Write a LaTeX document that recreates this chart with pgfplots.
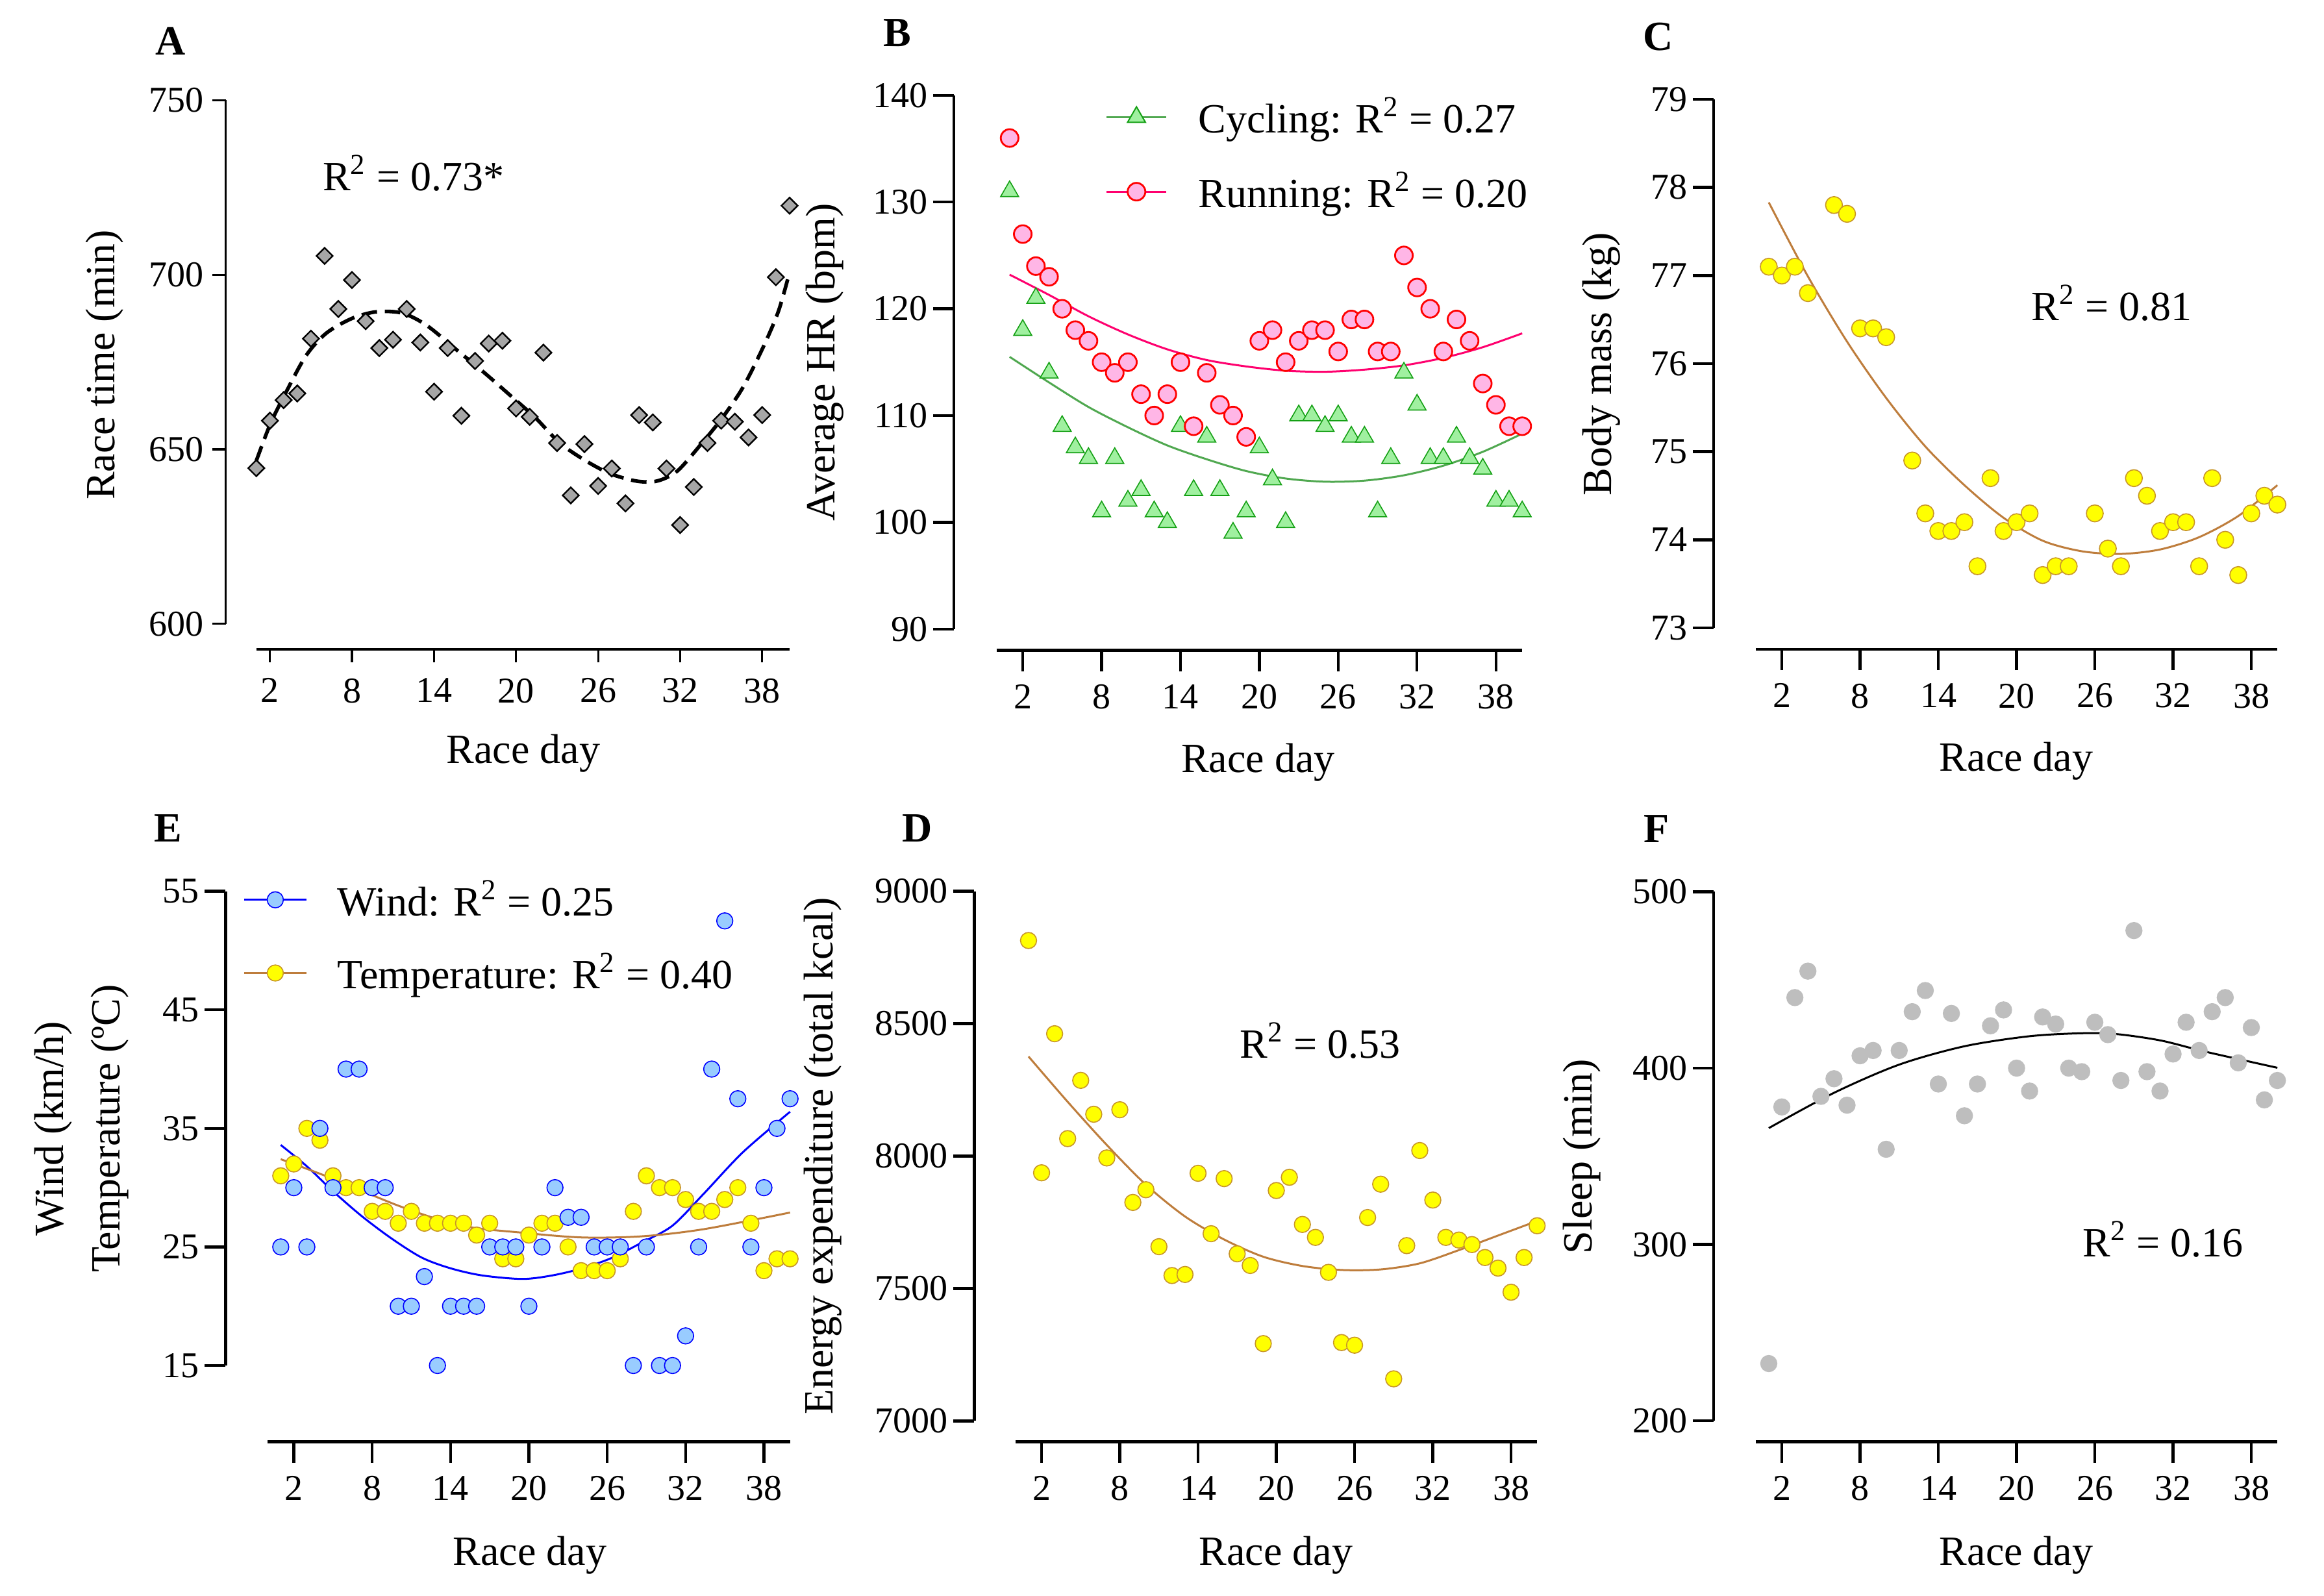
\documentclass[border=0pt]{standalone}
\usepackage{fontspec}
\setmainfont{Liberation Serif}
\usepackage{pgfplots}
\pgfplotsset{compat=1.18}

\definecolor{diamondgray}{RGB}{166,166,166}
\definecolor{runfill}{RGB}{255,182,230}
\definecolor{runedge}{RGB}{255,0,0}
\definecolor{runline}{RGB}{255,0,110}
\definecolor{cycfill}{RGB}{160,240,160}
\definecolor{cycedge}{RGB}{20,160,20}
\definecolor{cycline}{RGB}{80,168,80}
\definecolor{yelfill}{RGB}{255,255,0}
\definecolor{yeledge}{RGB}{200,150,40}
\definecolor{fitbrown}{RGB}{190,125,60}
\definecolor{windfill}{RGB}{153,204,255}
\definecolor{windedge}{RGB}{0,0,255}
\definecolor{sleepgray}{RGB}{190,190,190}

\pgfplotsset{
  prism/.style={
    scale only axis, clip=false, anchor=south west,
    axis x line*=bottom, axis y line*=left,
    axis line style={draw=none},
    tick align=outside, major tick length=8pt,
    tick style={draw=black, line width=1.1pt},
    xtick={2,8,...,38}, xmax=40,
    /pgf/number format/assume math mode=true,
    /pgf/number format/1000 sep={},
    xticklabel={\pgfmathprintnumber{\tick}},
    yticklabel={\pgfmathprintnumber{\tick}},
    tick label style={font=\fontsize{14}{16}\selectfont, inner sep=0pt},
    label style={font=\fontsize{16}{19}\selectfont},
    xticklabel shift=5pt, yticklabel shift=2pt,
    xlabel={Race day},
  },
  pts/.style={only marks, mark=*, mark options={solid, line width=0.5pt}},
  fit/.style={no markers, smooth, line width=0.75pt},
}
\tikzset{
  letter/.style={font=\bfseries\fontsize{16}{19}\selectfont},
  rlab/.style={font=\fontsize{16}{19}\selectfont},
}

\begin{document}
\begin{tikzpicture}
\path (0,0) rectangle (894.75pt,614.25pt);

% ---------- A ----------
\begin{axis}[prism, at={(86.875pt,364.25pt)}, width=217.1pt, height=211.4pt,
  xmin=-1.24, ymin=592.7, ymax=750, ytick={600,650,700,750},
  major tick length=5pt, tick style={draw=black, line width=0.8pt},
  xticklabel shift=6pt, yticklabel shift=3.4pt,
  ylabel={Race time (min)},
  xlabel style={at={(axis description cs:0.528,-0.19)}, anchor=center},
  ylabel style={at={(axis description cs:-0.2147,0.518)}, anchor=center}]
\draw[line width=0.8pt] (axis cs:-1.24,600) -- (axis cs:-1.24,750);
\draw[line width=0.8pt] (axis cs:1,592.7) -- (axis cs:40,592.7);
\addplot[only marks, mark=square*, mark size=2.2pt,
  mark options={rotate=45, fill=diamondgray, draw=black, line width=0.6pt}]
  coordinates {(1,644.6)(2,658.2)(3,664.1)(4,666)(5,681.7)(6,705.4)(7,690.2)(8,698.5)
  (9,686.7)(10,679)(11,681.4)(12,690.2)(13,680.6)(14,666.5)(15,679)(16,659.6)(17,675.3)
  (18,680.3)(19,681.1)(20,661.7)(21,659.3)(22,677.7)(23,651.8)(24,636.8)(25,651.5)
  (26,639.5)(27,644.5)(28,634.5)(29,659.8)(30,657.7)(31,644.5)(32,628.3)(33,639.2)
  (34,651.8)(35,658.2)(36,657.9)(37,653.4)(38,659.8)(39,699.3)(40,719.8)};
\addplot[no markers, smooth, black, line width=1.4pt, dash pattern=on 6pt off 3pt]
  coordinates {(1,646.7)(2,657)(3,665)(4.6,676.6)(6.1,683.2)(8,687.5)(9.8,689.4)
  (11.7,689)(13.5,685.4)(15.8,678)(17.6,672.2)(19.5,665.7)(21.4,659.1)(23.2,651.8)
  (25.1,646.7)(26.9,643)(28.8,640.9)(30.3,640.9)(31.8,643.8)(33.6,651.8)(35.1,659.1)
  (36.6,667.8)(38.1,679.5)(39.2,689.7)(40,700.7)};
\node[letter] at (axis description cs:-0.0973,1.108) {A};
\node[rlab] at (axis description cs:0.333,0.867) {R\textsuperscript{2} = 0.73*};
\end{axis}

% ---------- B ----------
\begin{axis}[prism, at={(367.25pt,363.85pt)}, width=218.8pt, height=213.7pt,
  xmin=-3.24, ymin=88, ymax=140, ytick={90,100,...,140},
  ylabel={Average HR (bpm)},
  xlabel style={at={(axis description cs:0.535,-0.2017)}, anchor=center},
  ylabel style={at={(axis description cs:-0.2267,0.519)}, anchor=center},
  legend style={at={(axis description cs:0.266,0.8935)}, anchor=west, draw=none,
    fill=none, inner sep=0pt, row sep=9.5pt, column sep=10pt,
    font=\fontsize{16}{19}\selectfont},
  legend cell align=left,
  legend image code/.code={\draw[mark repeat=2,mark phase=2,#1]
    plot coordinates {(0pt,0pt) (11.5pt,0pt) (23pt,0pt)};}]
\addlegendimage{cycline, line width=0.8pt, mark=triangle*,
  mark options={fill=cycfill, draw=cycedge, mark size=4pt, line width=0.5pt}}
\addlegendentry{Cycling: R\textsuperscript{2} = 0.27}
\addlegendimage{runline, line width=0.8pt, mark=*,
  mark options={fill=runfill, draw=runedge, mark size=3.4pt, line width=0.7pt}}
\addlegendentry{Running: R\textsuperscript{2} = 0.20}
\draw[line width=1.1pt] (axis cs:-3.24,90) -- (axis cs:-3.24,140);
\draw[line width=1.1pt] (axis cs:0,88) -- (axis cs:40,88);
\addplot[pts, forget plot, mark=triangle*, mark size=4pt,
  mark options={fill=cycfill, draw=cycedge}]
  coordinates {(1,131)(2,118)(3,121)(4,114)(5,109)(6,107)(7,106)(8,101)(9,106)(10,102)
  (11,103)(12,101)(13,100)(14,109)(15,103)(16,108)(17,103)(18,99)(19,101)(20,107)
  (21,104)(22,100)(23,110)(24,110)(25,109)(26,110)(27,108)(28,108)(29,101)(30,106)
  (31,114)(32,111)(33,106)(34,106)(35,108)(36,106)(37,105)(38,102)(39,102)(40,101)};
\addplot[pts, forget plot, mark size=3.4pt,
  mark options={fill=runfill, draw=runedge, line width=0.7pt}]
  coordinates {(1,136)(2,127)(3,124)(4,123)(5,120)(6,118)(7,117)(8,115)(9,114)(10,115)
  (11,112)(12,110)(13,112)(14,115)(15,109)(16,114)(17,111)(18,110)(19,108)(20,117)
  (21,118)(22,115)(23,117)(24,118)(25,118)(26,116)(27,119)(28,119)(29,116)(30,116)
  (31,125)(32,122)(33,120)(34,116)(35,119)(36,117)(37,113)(38,111)(39,109)(40,109)};
\addplot[fit, forget plot, cycline]
  coordinates {(1,115.5)(4,113.1)(7,110.8)(10,108.9)(13,107.2)(16,105.9)(19,104.8)
  (22,104.1)(25,103.8)(28,103.9)(31,104.4)(34,105.3)(37,106.6)(40,108.3)};
\addplot[fit, forget plot, runline]
  coordinates {(1,123.2)(4,121.3)(7,119.3)(10,117.6)(13,116.2)(16,115.2)(19,114.6)
  (22,114.2)(25,114.1)(28,114.3)(31,114.7)(34,115.4)(37,116.4)(40,117.7)};
\node[letter] at (axis description cs:-0.0994,1.112) {B};
\end{axis}

% ---------- C ----------
\begin{axis}[prism, at={(659.7pt,364.25pt)}, width=217.1pt, height=211.75pt,
  xmin=-3.24, ymin=72.757, ymax=79, ytick={73,74,...,79},
  ylabel={Body mass (kg)},
  xlabel style={at={(axis description cs:0.537,-0.203)}, anchor=center},
  ylabel style={at={(axis description cs:-0.199,0.519)}, anchor=center}]
\draw[line width=1.1pt] (axis cs:-3.24,73) -- (axis cs:-3.24,79);
\draw[line width=1.1pt] (axis cs:0,72.757) -- (axis cs:40,72.757);
\addplot[pts, mark size=3.25pt, mark options={fill=yelfill, draw=yeledge}]
  coordinates {(1,77.1)(2,77.0)(3,77.1)(4,76.8)(6,77.8)(7,77.7)(8,76.4)(9,76.4)(10,76.3)
  (12,74.9)(13,74.3)(14,74.1)(15,74.1)(16,74.2)(17,73.7)(18,74.7)(19,74.1)(20,74.2)
  (21,74.3)(22,73.6)(23,73.7)(24,73.7)(26,74.3)(27,73.9)(28,73.7)(29,74.7)(30,74.5)
  (31,74.1)(32,74.2)(33,74.2)(34,73.7)(35,74.7)(36,74.0)(37,73.6)(38,74.3)(39,74.5)
  (40,74.4)};
\addplot[fit, fitbrown]
  coordinates {(1,77.83)(4,76.99)(7,76.25)(10,75.61)(13,75.06)(16,74.62)(19,74.25)
  (22,73.99)(25,73.87)(28,73.84)(31,73.89)(34,74.03)(37,74.27)(40,74.62)};
\node[letter] at (axis description cs:-0.0977,1.114) {C};
\node[rlab] at (axis description cs:0.706,0.630) {R\textsuperscript{2} = 0.81};
\end{axis}

% ---------- E ----------
\begin{axis}[prism, at={(86.875pt,59.1pt)}, width=217.3pt, height=212pt,
  xmin=-3.22, ymin=8.56, ymax=55, ytick={15,25,35,45,55},
  ylabel={Wind (km/h)\\Temperature (ºC)},
  xlabel style={at={(axis description cs:0.539,-0.2057)}, anchor=center},
  ylabel style={at={(axis description cs:-0.2554,0.569)}, anchor=center,
    align=center, font=\fontsize{16}{21.75}\selectfont},
  legend style={at={(axis description cs:0.030,0.918)}, anchor=west, draw=none,
    fill=none, inner sep=0pt, row sep=9pt, column sep=9.5pt,
    font=\fontsize{16}{19}\selectfont},
  legend cell align=left,
  legend image code/.code={\draw[mark repeat=2,mark phase=2,#1]
    plot coordinates {(0pt,0pt) (12pt,0pt) (24pt,0pt)};}]
\addlegendimage{windedge, line width=0.8pt, mark=*,
  mark options={fill=windfill, draw=windedge, mark size=3.1pt, line width=0.4pt}}
\addlegendentry{Wind: R\textsuperscript{2} = 0.25}
\addlegendimage{fitbrown, line width=0.8pt, mark=*,
  mark options={fill=yelfill, draw=yeledge, mark size=3.1pt, line width=0.4pt}}
\addlegendentry{Temperature: R\textsuperscript{2} = 0.40}
\draw[line width=1.1pt] (axis cs:-3.22,15) -- (axis cs:-3.22,55);
\draw[line width=1.1pt] (axis cs:0,8.56) -- (axis cs:40,8.56);
\addplot[pts, forget plot, mark size=3.1pt, mark options={fill=yelfill, draw=yeledge}]
  coordinates {(1,31)(2,32)(3,35)(4,34)(5,31)(6,30)(7,30)(8,28)(9,28)(10,27)(11,28)
  (12,27)(13,27)(14,27)(15,27)(16,26)(17,27)(18,24)(19,24)(20,26)(21,27)(22,27)(23,25)
  (24,23)(25,23)(26,23)(27,24)(28,28)(29,31)(30,30)(31,30)(32,29)(33,28)(34,28)(35,29)
  (36,30)(37,27)(38,23)(39,24)(40,24)};
\addplot[pts, forget plot, mark size=3.1pt,
  mark options={fill=windfill, draw=windedge, line width=0.4pt}]
  coordinates {(1,25)(2,30)(3,25)(4,35)(5,30)(6,40)(7,40)(8,30)(9,30)(10,20)(11,20)
  (12,22.5)(13,15)(14,20)(15,20)(16,20)(17,25)(18,25)(19,25)(20,20)(21,25)(22,30)
  (23,27.5)(24,27.5)(25,25)(26,25)(27,25)(28,15)(29,25)(30,15)(31,15)(32,17.5)(33,25)
  (34,40)(35,52.5)(36,37.5)(37,25)(38,30)(39,35)(40,37.5)};
\addplot[fit, forget plot, windedge]
  coordinates {(1,33.6)(3,31.8)(5,29.7)(7.2,27.6)(9.5,25.7)(11.8,24.1)(14,23.2)
  (16.4,22.6)(19.5,22.3)(21.8,22.6)(24.1,23.2)(26.4,24.1)(28.7,25.4)(31,26.8)
  (33.4,29.5)(36.4,33.0)(40,36.4)};
\addplot[fit, forget plot, fitbrown]
  coordinates {(1,32.4)(5,30.75)(10.2,28.4)(14.8,26.8)(19.5,26.2)(24.1,25.8)
  (28.7,25.9)(33.4,26.5)(40,27.9)};
\node[letter] at (axis description cs:-0.1018,1.1146) {E};
\end{axis}

% ---------- D ----------
\begin{axis}[prism, at={(375.1pt,59.1pt)}, width=216.7pt, height=212pt,
  xmin=-3.16, ymin=6921, ymax=9000, ytick={7000,7500,...,9000},
  ylabel={Energy expenditure (total kcal)},
  xlabel style={at={(axis description cs:0.536,-0.2057)}, anchor=center},
  ylabel style={at={(axis description cs:-0.2696,0.519)}, anchor=center}]
\draw[line width=1.1pt] (axis cs:-3.16,7000) -- (axis cs:-3.16,9000);
\draw[line width=1.1pt] (axis cs:0,6921) -- (axis cs:40,6921);
\addplot[pts, mark size=3.1pt, mark options={fill=yelfill, draw=yeledge}]
  coordinates {(1,8814)(2,7937)(3,8462)(4,8066)(5,8286)(6,8158)(7,7993)(8,8175)(9,7825)
  (10,7873)(11,7658)(12,7549)(13,7553)(14,7935)(15,7707)(16,7915)(17,7631)(18,7587)
  (19,7292)(20,7870)(21,7920)(22,7742)(23,7693)(24,7561)(25,7296)(26,7286)(27,7768)
  (28,7894)(29,7159)(30,7662)(31,8021)(32,7834)(33,7693)(34,7683)(35,7666)(36,7617)
  (37,7577)(38,7486)(39,7617)(40,7737)};
\addplot[fit, fitbrown]
  coordinates {(1,8376)(4,8205)(7,8042)(10,7892)(13,7772)(16,7685)(19,7620)(22,7585)
  (25,7570)(28,7572)(31,7595)(34,7645)(37,7700)(40,7755)};
\node[letter] at (axis description cs:-0.1008,1.1146) {D};
\node[rlab] at (axis description cs:0.6145,0.729) {R\textsuperscript{2} = 0.53};
\end{axis}

% ---------- F ----------
\begin{axis}[prism, at={(659.7pt,59.1pt)}, width=217.1pt, height=211.8pt,
  xmin=-3.24, ymin=188.1, ymax=500, ytick={200,300,400,500},
  ylabel={Sleep (min)},
  xlabel style={at={(axis description cs:0.537,-0.206)}, anchor=center},
  ylabel style={at={(axis description cs:-0.233,0.519)}, anchor=center}]
\draw[line width=1.1pt] (axis cs:-3.24,200) -- (axis cs:-3.24,500);
\draw[line width=1.1pt] (axis cs:0,188.1) -- (axis cs:40,188.1);
\addplot[pts, mark size=3.1pt, mark options={fill=sleepgray, draw=sleepgray}]
  coordinates {(1,232.5)(2,378)(3,440)(4,455)(5,384)(6,394)(7,379)(8,407)(9,410)
  (10,354)(11,410)(12,432)(13,444)(14,391)(15,431)(16,373)(17,391)(18,424)(19,433)
  (20,400)(21,387)(22,429)(23,425)(24,400)(25,398)(26,426)(27,419)(28,393)(29,478)
  (30,398)(31,387)(32,408)(33,426)(34,410)(35,432)(36,440)(37,403)(38,423)(39,382)
  (40,393)};
\addplot[fit, black]
  coordinates {(1,366)(6,386)(11,402)(16,412.4)(21,418.1)(25.1,419.8)(27.8,419.2)
  (31.1,415.6)(34.5,409.3)(40,400.2)};
\node[letter] at (axis description cs:-0.101,1.114) {F};
\node[rlab] at (axis description cs:0.797,0.3686) {R\textsuperscript{2} = 0.16};
\end{axis}
\end{tikzpicture}
\end{document}
